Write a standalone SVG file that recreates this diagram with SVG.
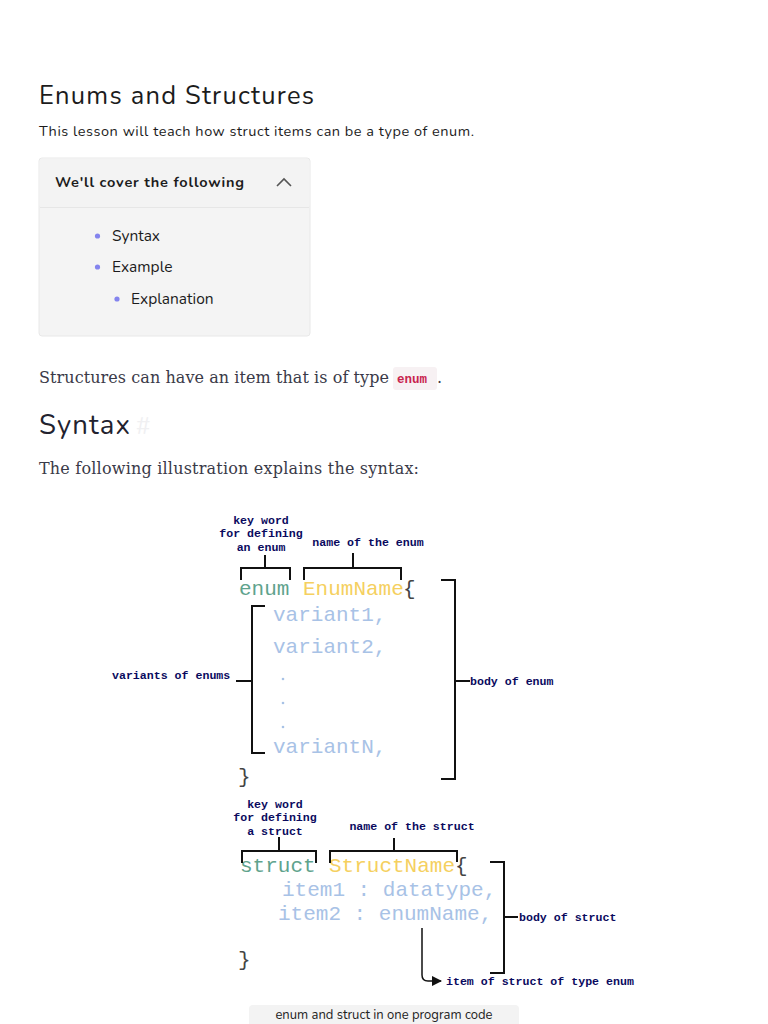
<svg xmlns="http://www.w3.org/2000/svg" width="768" height="1024" viewBox="0 0 768 1024">
<defs>
<style>
.sans{font-family:"Nunito","Lato","Open Sans",sans-serif}
.serif{font-family:"DejaVu Serif","Liberation Serif",serif;fill:#3a3a48}
.lbl{font-family:"Liberation Mono","Courier New",monospace;font-weight:bold;font-size:11.6px;fill:#0a0a5e}
.code{font-family:"Liberation Mono","Courier New",monospace;font-size:21px}
.kw{fill:#5fa38d}
.nm{fill:#f5d060}
.vr{fill:#a8c2e6}
.br{fill:#444}
.ln{stroke:#111;stroke-width:2;fill:none}
</style>
<marker id="arr" viewBox="0 0 10 10" refX="9" refY="5" markerWidth="7" markerHeight="7" orient="auto"><path d="M0,0 L10,5 L0,10 z" fill="#111"/></marker>
</defs>
<rect width="768" height="1024" fill="#fff"/>

<g id="header">
<text class="sans" x="39" y="104" font-size="25.5" fill="#1c1c1c" textLength="275">Enums and Structures</text>
<text class="sans" x="39" y="136" font-size="14.5" fill="#1c1c1c" textLength="435">This lesson will teach how struct items can be a type of enum.</text>
</g>

<g id="toc">
<rect x="39" y="158" width="271" height="178" rx="3" fill="#f4f4f4" stroke="#e8e8e8"/>
<rect x="39.5" y="158.5" width="270" height="49" rx="3" fill="#f3f3f3"/>
<line x1="40" y1="207.5" x2="309" y2="207.5" stroke="#e6e6e6"/>
<text class="sans" x="55" y="187" font-size="14.5" font-weight="bold" fill="#1c1c1c" textLength="189">We'll cover the following</text>
<path d="M277,186 L284,179 L291,186" fill="none" stroke="#555" stroke-width="1.6"/>
<circle cx="97.5" cy="236" r="2.6" fill="#8484ee"/>
<text class="sans" x="112" y="241" font-size="15.5" fill="#1c1c1c">Syntax</text>
<circle cx="97.5" cy="267" r="2.6" fill="#8484ee"/>
<text class="sans" x="112" y="272" font-size="15.5" fill="#1c1c1c">Example</text>
<circle cx="117" cy="299" r="2.6" fill="#8484ee"/>
<text class="sans" x="131" y="304" font-size="15.5" fill="#1c1c1c">Explanation</text>
</g>

<g id="intro">
<text class="serif" x="39" y="383" font-size="16" textLength="350">Structures can have an item that is of type</text>
<rect x="393" y="367" width="44" height="23" rx="3" fill="#f7f1f3"/>
<text x="397" y="383" font-family="Liberation Mono,monospace" font-size="12.5" font-weight="bold" fill="#c8244f">enum</text>
<text class="serif" x="437" y="383" font-size="16">.</text>
<text class="sans" x="39" y="434" font-size="27.5" fill="#22222e" textLength="91">Syntax</text>
<text class="sans" x="136" y="434" font-size="24" fill="#f0f0f2">#</text>
<text class="serif" x="39" y="474" font-size="16" textLength="380">The following illustration explains the syntax:</text>
</g>

<g id="enum-code">
<text class="code kw" x="239" y="595">enum</text>
<text class="code nm" x="303" y="595">EnumName</text>
<text class="code br" x="403" y="595">{</text>
<text class="code vr" x="273" y="621">variant1,</text>
<text class="code vr" x="273" y="653">variant2,</text>
<circle cx="283" cy="679" r="1.3" fill="#a8c2e6"/>
<circle cx="283" cy="703" r="1.3" fill="#a8c2e6"/>
<circle cx="283" cy="727" r="1.3" fill="#a8c2e6"/>
<text class="code vr" x="273" y="753">variantN,</text>
<text class="code br" x="238" y="783">}</text>
</g>

<g id="enum-labels">
<text class="lbl" x="261" y="524" text-anchor="middle">key word</text>
<text class="lbl" x="261" y="537" text-anchor="middle">for defining</text>
<text class="lbl" x="261" y="551" text-anchor="middle">an enum</text>
<text class="lbl" x="368" y="546" text-anchor="middle">name of the enum</text>
<text class="lbl" x="112" y="679">variants of enums</text>
<text class="lbl" x="470" y="685">body of enum</text>
</g>

<g id="struct-code">
<text class="code kw" x="240" y="872">struct</text>
<text class="code nm" x="329" y="872">StructName</text>
<text class="code br" x="455" y="872">{</text>
<text class="code vr" x="282" y="896">item1 : datatype,</text>
<text class="code vr" x="278" y="920">item2 : enumName,</text>
<text class="code br" x="238" y="966">}</text>
</g>

<g id="struct-labels">
<text class="lbl" x="275" y="808" text-anchor="middle">key word</text>
<text class="lbl" x="275" y="821" text-anchor="middle">for defining</text>
<text class="lbl" x="275" y="835" text-anchor="middle">a struct</text>
<text class="lbl" x="412" y="830" text-anchor="middle">name of the struct</text>
<text class="lbl" x="519" y="921">body of struct</text>
<text class="lbl" x="446" y="985">item of struct of type enum</text>
</g>

<g id="connectors">
<path class="ln" d="M241,580 V568 H290 V580 M265,568 V555"/>
<path class="ln" d="M304,580 V568 H401 V580 M353,568 V553"/>
<path class="ln" d="M441,580 H455 V779 H441 M455,681 H470"/>
<path class="ln" d="M265,606 H252 V753 H265 M252,681 H236"/>
<path class="ln" d="M242,863 V851 H316 V863 M279,851 V837"/>
<path class="ln" d="M330,863 V851 H457 V862 M394,851 V838"/>
<path class="ln" d="M490,862 H504 V973 H490 M504,917 H518"/>
<path d="M422,928 V975 Q422,981 428,981 H441" fill="none" stroke="#111" stroke-width="1.5" marker-end="url(#arr)"/>
</g>

<g id="caption">
<rect x="249" y="1005" width="270" height="30" rx="4" fill="#f3f3f3"/>
<text class="sans" x="384" y="1019" font-size="13" text-anchor="middle" fill="#222">enum and struct in one program code</text>
</g>
</svg>
